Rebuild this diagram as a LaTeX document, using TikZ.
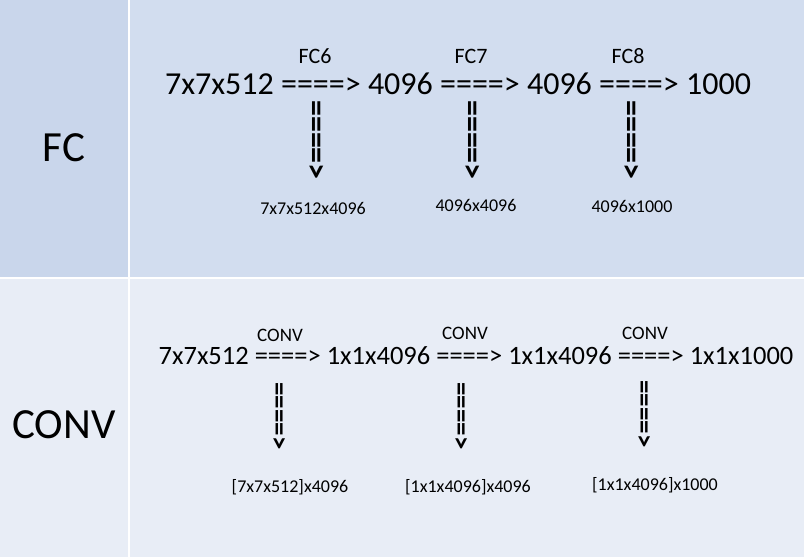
\documentclass[tikz,border=0pt]{standalone}
\usepackage{fontspec}
\setmainfont{Carlito}
\definecolor{topL}{HTML}{C9D6EB}
\definecolor{topR}{HTML}{D2DDEF}
\definecolor{bot}{HTML}{E8EDF6}
\begin{document}
\begin{tikzpicture}[x=1pt,y=-1pt,
  big/.style={font=\fontsize{32}{34}\selectfont,inner sep=0},
  mid/.style={font=\fontsize{26.5}{28}\selectfont,inner sep=0},
  lab/.style={font=\fontsize{22}{24}\selectfont,inner sep=0},
  clab/.style={font=\fontsize{19}{21}\selectfont,inner sep=0},
  sm/.style={font=\fontsize{18}{20}\selectfont,inner sep=0},
  varrF/.style={font=\fontsize{32}{34}\bfseries\selectfont,inner sep=0,rotate=-90},
  varrC/.style={font=\fontsize{27}{29}\bfseries\selectfont,inner sep=0,rotate=-90}]
\useasboundingbox (0,0) rectangle (804,559);
\fill[white] (0,0) rectangle (804,559);
\fill[topL] (0,0) rectangle (128,277);
\fill[topR] (130,0) rectangle (804,277);
\fill[bot] (0,279) rectangle (128,557);
\fill[bot] (130,279) rectangle (804,557);
\node[font=\fontsize{43}{45}\selectfont] (fc) at (64,148) {FC};
\node[font=\fontsize{43}{45}\selectfont] (conv) at (64,425) {CONV};
\node[big] (l1) at (458,84) {7x7x512 ====> 4096 ====> 4096 ====> 1000};
\node[lab] (f6) at (315,56) {FC6};
\node[lab] (f7) at (471,56) {FC7};
\node[lab] (f8) at (628,56) {FC8};
\node[varrF] (a1) at (315,140) {====>};
\node[varrF] (a2) at (471,140) {====>};
\node[varrF] (a3) at (630,140) {====>};
\node[sm] (w1) at (313,208) {7x7x512x4096};
\node[sm] (w2) at (476,205) {4096x4096};
\node[sm] (w3) at (632,206) {4096x1000};
\node[mid] (l2) at (476,356) {7x7x512 ====> 1x1x4096 ====> 1x1x4096 ====> 1x1x1000};
\node[clab] (c1) at (280,335) {CONV};
\node[clab] (c2) at (465,333) {CONV};
\node[clab] (c3) at (645,333) {CONV};
\node[varrC] (b1) at (278,416) {====>};
\node[varrC] (b2) at (460,416) {====>};
\node[varrC] (b3) at (643,414) {====>};
\node[sm] (v1) at (290,487) {[7x7x512]x4096};
\node[sm] (v2) at (468,487) {[1x1x4096]x4096};
\node[sm] (v3) at (655,485) {[1x1x4096]x1000};
\end{tikzpicture}
\end{document}
